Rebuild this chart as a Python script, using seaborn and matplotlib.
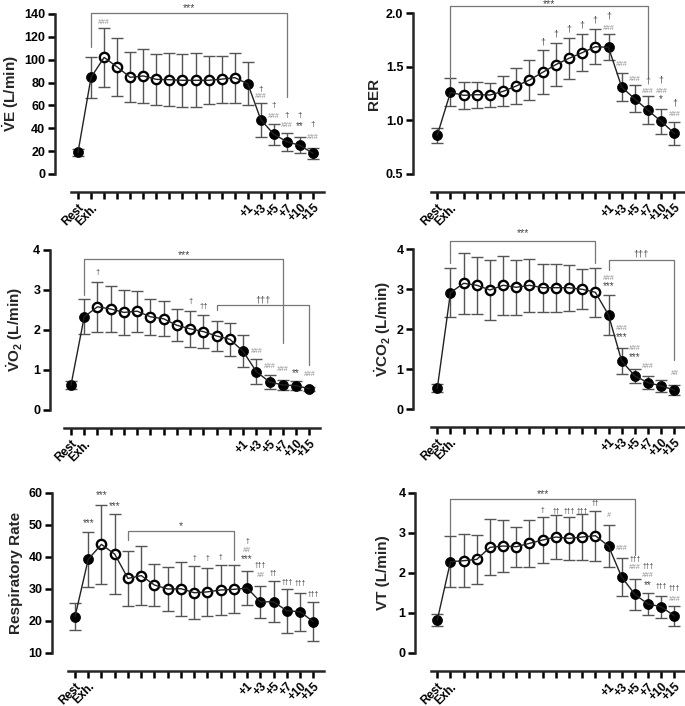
import matplotlib
matplotlib.use("Agg")
import matplotlib.pyplot as plt
import seaborn as sns
import pandas as pd

sns.set_style("ticks")
plt.rcParams["font.family"] = ["Liberation Sans", "DejaVu Sans"]
plt.rcParams["font.weight"] = "bold"
plt.rcParams["mathtext.fontset"] = "custom"
plt.rcParams["mathtext.bf"] = "Liberation Sans:bold"
plt.rcParams["mathtext.rm"] = "Liberation Sans:bold"

# x categories: rest, exhaustion, 11 exercise stages (open circles), recovery minutes
timepoints = ["Rest", "Exh."] + [""] * 11 + ["+1", "+3", "+5", "+7", "+10", "+15"]
is_open = [False, False] + [True] * 11 + [False] * 6

# mean / SD
ve_mean = [19, 84.6, 102, 93.6, 84.6, 85.8, 82.8, 82.5, 82, 82, 82, 83, 84.3, 79, 47.5, 34.7, 28.3, 25, 18]
ve_sd = [3, 18, 26, 25, 22, 24, 22.5, 23, 23, 23.5, 21, 20.5, 22, 19, 15, 9, 8, 7, 5]

rer_mean = [0.863, 1.261, 1.233, 1.239, 1.236, 1.27, 1.32, 1.376, 1.447, 1.519, 1.578, 1.63, 1.686,
            1.68, 1.31, 1.199, 1.093, 0.99, 0.879]
rer_sd = [0.07, 0.13, 0.127, 0.12, 0.112, 0.14, 0.17, 0.185, 0.206, 0.2, 0.19, 0.17, 0.165,
          0.12, 0.13, 0.126, 0.13, 0.12, 0.11]

vo2_mean = [0.625, 2.33, 2.58, 2.525, 2.44, 2.47, 2.33, 2.28, 2.117, 2.03, 1.96, 1.85, 1.767,
            1.467, 0.958, 0.70, 0.625, 0.608, 0.533]
vo2_sd = [0.1, 0.44, 0.62, 0.57, 0.56, 0.51, 0.45, 0.44, 0.4, 0.45, 0.42, 0.37, 0.41,
          0.4, 0.31, 0.175, 0.125, 0.12, 0.05]

vco2_mean = [0.525, 2.917, 3.15, 3.1, 2.983, 3.1, 3.05, 3.1, 3.04, 3.04, 3.04, 3.0, 2.925,
             2.358, 1.208, 0.833, 0.667, 0.583, 0.483]
vco2_sd = [0.1, 0.61, 0.77, 0.71, 0.74, 0.74, 0.69, 0.66, 0.6, 0.6, 0.57, 0.5, 0.62,
           0.5, 0.33, 0.17, 0.16, 0.14, 0.12]

rr_mean = [21.25, 39.2, 43.85, 40.8, 33.2, 34.1, 31.15, 29.9, 30.0, 28.75, 29.0, 29.6, 29.8,
           30.2, 25.9, 25.9, 23.1, 22.8, 19.7]
rr_sd = [4.3, 8.6, 12.3, 12.5, 8.5, 9.2, 6.7, 6.9, 8.5, 8.3, 7.6, 7.9, 7.5,
         5.2, 5.0, 6.4, 6.8, 5.9, 6.0]

vt_mean = [0.817, 2.275, 2.3, 2.333, 2.633, 2.667, 2.65, 2.733, 2.817, 2.892, 2.858, 2.892, 2.925,
           2.667, 1.892, 1.458, 1.217, 1.15, 0.917]
vt_sd = [0.14, 0.64, 0.66, 0.62, 0.7, 0.64, 0.5, 0.59, 0.57, 0.54, 0.54, 0.57, 0.62,
         0.52, 0.47, 0.39, 0.28, 0.28, 0.24]

# significance brackets: (from, to, top, left end, right end, label, label y)
ve_brackets = [(1, 16, 140.5, 111, 67.7, "***", 145.5)]
rer_brackets = [(1, 16, 2.065, 1.39, 1.40, "***", 2.083)]
vo2_brackets = [(1, 16, 3.77, 2.875, 1.67, "***", 3.88), (11, 18, 2.625, 2.5, 1.125, "†††", 2.76)]
vco2_brackets = [(1, 12, 4.217, 3.65, 3.65, "***", 4.40), (13, 18, 3.733, 3.48, 1.23, "†††", 3.89)]
rr_brackets = [(4, 12, 48.1, 45.2, 39, "*", 49.6)]
vt_brackets = [(1, 15, 3.833, 2.94, 2.44, "***", 3.97)]

# per-point marks: (x index, y, text)
ve_notes = [(2, 133, "###"), (14, 73.5, "†"), (14, 67.7, "###"), (15, 60, "†"), (15, 50, "###"),
            (16, 51.6, "†"), (16, 42.3, "###"), (17, 51.6, "†"), (17, 42, "**"), (18, 43, "†"), (18, 31.8, "###")]
rer_notes = [(8, 1.733, "†"), (9, 1.80, "†"), (10, 1.85, "†"), (11, 1.89, "†"), (12, 1.935, "†"),
             (13, 1.97, "†"), (13, 1.857, "###"), (14, 1.516, "###"), (15, 1.385, "###"),
             (16, 1.37, "†"), (16, 1.273, "###"), (17, 1.38, "†"), (17, 1.267, "###"), (17, 1.196, "*"),
             (18, 1.158, "†"), (18, 1.05, "###")]
vo2_notes = [(2, 3.43, "†"), (9, 2.71, "†"), (10, 2.58, "††"), (14, 1.46, "###"), (15, 1.10, "###"),
             (16, 1.02, "###"), (17, 0.92, "**"), (18, 0.89, "###")]
vco2_notes = [(13, 3.275, "###"), (13, 3.08, "***"), (14, 2.025, "###"), (14, 1.817, "***"),
              (15, 1.525, "###"), (15, 1.30, "***"), (16, 1.067, "###"), (18, 0.883, "##")]
rr_notes = [(1, 50.4, "***"), (2, 59.3, "***"), (3, 55.9, "***"), (9, 39.5, "†"), (10, 39.3, "†"),
            (11, 39.7, "†"), (13, 44.7, "†"), (13, 41.8, "##"), (13, 39.2, "***"), (14, 37.1, "†††"),
            (14, 34.1, "##"), (15, 34.6, "††"), (16, 31.9, "†††"), (17, 31.7, "†††"), (18, 28.2, "†††")]
vt_notes = [(8, 3.567, "†"), (9, 3.525, "††"), (10, 3.525, "†††"), (11, 3.525, "†††"), (12, 3.73, "††"),
            (13, 3.44, "#"), (14, 2.60, "###"), (15, 2.34, "†††"), (15, 2.133, "###"), (16, 2.15, "†††"),
            (16, 1.94, "###"), (16, 1.69, "**"), (17, 1.65, "†††"), (18, 1.61, "†††"), (18, 1.34, "###")]

W, H = 685, 706
fig = plt.figure(figsize=(W / 100, H / 100), dpi=100)

# layout in pixels: first tick x, tick step, y-axis x, top y, bottom y, x-axis y, ylabel right edge,
# dagger font size
panels = [
    (r"$\dot{\mathbf{V}}$E (L/min)", ve_mean, ve_sd, (0, 140), range(0, 141, 20), "{:.0f}",
     ve_brackets, ve_notes, (78, 13.06, 55, 14, 174, 192, 21, 6)),
    ("RER", rer_mean, rer_sd, (0.5, 2.0), [0.5, 1.0, 1.5, 2.0], "{:.1f}",
     rer_brackets, rer_notes, (437.3, 13.17, 413, 13, 174, 192, 381, 6.3)),
    (r"$\dot{\mathbf{V}}\mathbf{O}_\mathbf{2}$ (L/min)", vo2_mean, vo2_sd, (0, 4), range(0, 5), "{:.0f}",
     vo2_brackets, vo2_notes, (71, 13.24, 50, 250, 410, 428, 25, 5.5)),
    (r"$\dot{\mathbf{V}}\mathbf{CO}_\mathbf{2}$ (L/min)", vco2_mean, vco2_sd, (0, 4), range(0, 5), "{:.0f}",
     vco2_brackets, vco2_notes, (437.3, 13.17, 413.3, 249.3, 409.3, 426.7, 393, 5.5)),
    ("Respiratory Rate", rr_mean, rr_sd, (10, 60), range(10, 61, 10), "{:.0f}",
     rr_brackets, rr_notes, (75, 13.24, 52.3, 492.7, 652.7, 670.7, 23, 4.8)),
    ("VT (L/min)", vt_mean, vt_sd, (0, 4), range(0, 5), "{:.0f}",
     vt_brackets, vt_notes, (437.3, 13.17, 415.3, 492.7, 652.7, 671, 390, 4.8)),
]

for ylabel, mean, sd, ylim, yticks, fmt, brackets, notes, lay in panels:
    tick0, step, yax, ytop, ybot, xax, labx, dag_fs = lay
    left = tick0 - 0.5 * step
    right = tick0 + 18.8 * step
    ax = fig.add_axes([left / W, 1 - ybot / H, (right - left) / W, (ybot - ytop) / H])

    # Prism-style detached axes (set first: moving a spine resets the ticks)
    ax.spines[["top", "right"]].set_visible(False)
    ax.spines["left"].set_position(("outward", (left - yax) * 0.72))
    ax.spines["bottom"].set_position(("outward", (xax - ybot) * 0.72))
    for sp in ("left", "bottom"):
        ax.spines[sp].set_linewidth(1.8)

    df = pd.DataFrame({"t": range(len(mean)), "mean": mean, "sd": sd, "open": is_open})

    ax.errorbar(df["t"], df["mean"], yerr=df["sd"], fmt="none", ecolor="#555555",
                elinewidth=1, capsize=4, capthick=1, zorder=1, clip_on=False)
    sns.scatterplot(data=df[~df["open"]], x="t", y="mean", s=52, color="black",
                    edgecolor="black", linewidth=0.5, zorder=2, ax=ax, clip_on=False)
    sns.scatterplot(data=df[df["open"]], x="t", y="mean", s=45, color="white",
                    edgecolor="black", linewidth=1.7, zorder=2, ax=ax, clip_on=False)
    sns.lineplot(data=df, x="t", y="mean", color="#222222", linewidth=1, zorder=3, ax=ax)

    for x1, x2, ytop_b, yl, yr, lab, laby in brackets:
        ax.plot([x1, x1, x2, x2], [yl, ytop_b, ytop_b, yr], color="#777777", lw=0.9, clip_on=False)
        fs = 7.5 if "*" in lab else dag_fs + 1
        ax.text((x1 + x2) / 2, laby, lab, ha="center", va="center", fontsize=fs,
                color="#444444", fontweight="normal")

    for x, y, s in notes:
        if "#" in s:
            ax.text(x, y, s, ha="center", va="center", fontsize=5, color="#8c8c8c",
                    fontstyle="italic", fontweight="normal")
        elif "*" in s:
            ax.text(x, y, s, ha="center", va="center", fontsize=7, color="#444444",
                    fontweight="normal")
        else:
            ax.text(x, y, s, ha="center", va="center", fontsize=dag_fs, color="#444444",
                    fontweight="normal")

    ax.set_xlim(-0.5, 18.8)
    ax.set_ylim(*ylim)
    ax.set_yticks(list(yticks))
    ax.set_yticklabels([fmt.format(v) for v in yticks], fontsize=9, fontweight="bold")
    ax.set_xticks(range(len(timepoints)))
    ax.set_xticklabels(timepoints, rotation=45, ha="right", rotation_mode="anchor",
                       fontsize=8.5, fontweight="bold")
    ax.tick_params(width=1.8, length=5, colors="black", pad=2)
    ax.set_xlabel("")
    ax.set_ylabel(ylabel, fontsize=11, fontweight="bold")
    ax.yaxis.set_label_coords((labx - left) / (right - left), 0.5)

fig.savefig("out.png", dpi=100)
